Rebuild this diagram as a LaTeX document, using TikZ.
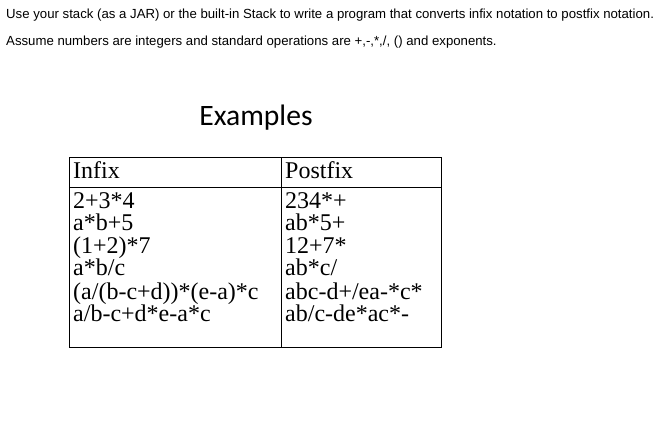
\documentclass[tikz,border=0pt]{standalone}
\usepackage{fontspec}
\setmainfont{Liberation Serif}
\newfontfamily\arialf{Liberation Sans}
\newfontfamily\calf{Carlito}
\begin{document}
\begin{tikzpicture}[x=1pt,y=-1pt,
  hdr/.style={anchor=base west,inner sep=0pt,font=\arialf\fontsize{13.2}{15}\selectfont},
  cell/.style={anchor=base west,inner sep=0pt,font=\fontsize{24}{26}\selectfont},
  tline/.style={line width=0.8pt}]
\useasboundingbox (0,0) rectangle (665,421);
\node[hdr] (t1) at (6,18) {Use your stack (as a JAR) or the built-in Stack to write a program that converts infix notation to postfix notation.};
\node[hdr] (t2) at (6,45) {Assume numbers are integers and standard operations are +,-,*,/, () and exponents.};
\node[anchor=base,inner sep=0pt,font=\calf\fontsize{29.6}{31}\selectfont] (ex) at (256,125) {Examples};
\draw[tline] (69,157) rectangle (441,347);
\draw[tline] (69,187) -- (441,187);
\draw[tline] (281,157) -- (281,347);
\node[cell] (h1) at (73,178) {Infix};
\node[cell] (h2) at (285,178) {Postfix};
\node[cell] (a1) at (73,208) {2+3*4};
\node[cell] (b1) at (285,208) {234*+};
\node[cell] (a2) at (73,230) {a*b+5};
\node[cell] (b2) at (285,230) {ab*5+};
\node[cell] (a3) at (73,253) {(1+2)*7};
\node[cell] (b3) at (285,253) {12+7*};
\node[cell] (a4) at (73,275) {a*b/c};
\node[cell] (b4) at (285,275) {ab*c/};
\node[cell] (a5) at (73,299) {(a/(b-c+d))*(e-a)*c};
\node[cell] (b5) at (285,299) {abc-d+/ea-*c*};
\node[cell] (a6) at (73,321) {a/b-c+d*e-a*c};
\node[cell] (b6) at (285,321) {ab/c-de*ac*-};
\end{tikzpicture}
\end{document}
